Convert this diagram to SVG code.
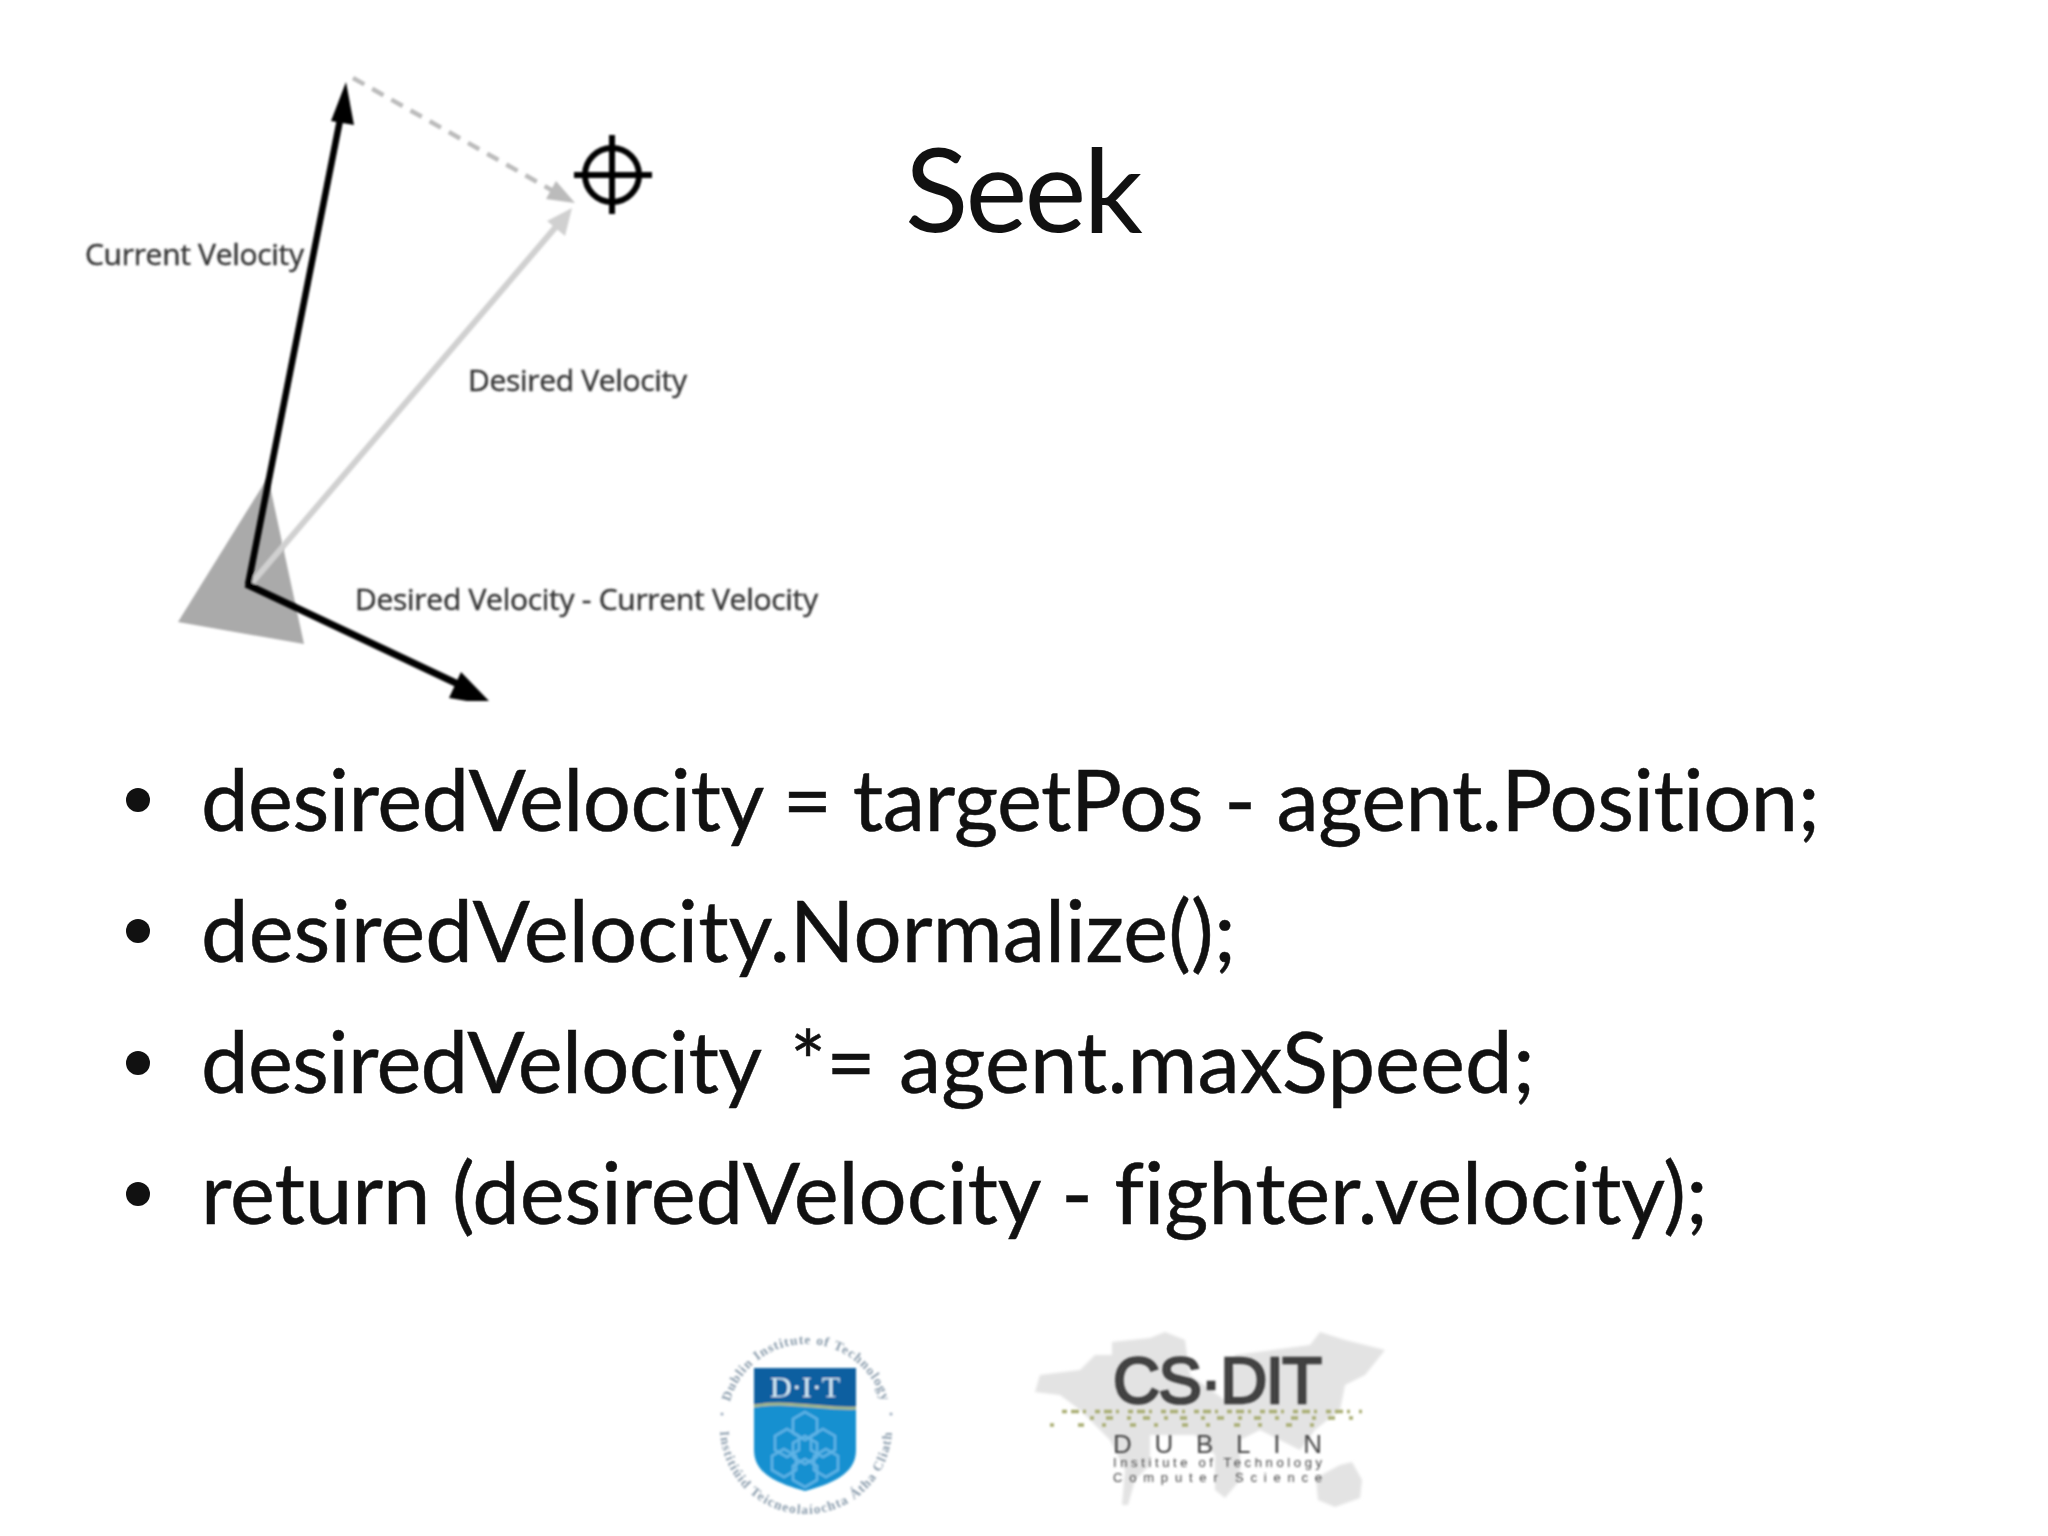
<svg xmlns="http://www.w3.org/2000/svg" width="2048" height="1536" viewBox="0 0 2048 1536">
<style>
.t{font-family:"Lato","Open Sans","Liberation Sans",sans-serif;fill:#111;font-variant-ligatures:none}
.b{font-size:85px;stroke:#111;stroke-width:.5}
.l{font-family:"Open Sans","Noto Sans",sans-serif;font-size:30px;fill:#333;stroke:#333;stroke-width:.4}
.k{font-family:"Liberation Sans",sans-serif;fill:#444}
.c{fill:none;stroke:#5fb4e6;stroke-width:2.5}
.r{font-family:"Liberation Serif",serif;font-size:13.5px;fill:#8a9cac;font-weight:bold}
.d{fill:none;stroke:#a8ad72;stroke-width:3.5}
</style>
<defs>
<filter id="s" x="-5%" y="-5%" width="110%" height="110%"><feGaussianBlur stdDeviation="0.8"/></filter>
<filter id="m" x="-10%" y="-10%" width="120%" height="120%"><feGaussianBlur stdDeviation="1.6"/></filter>
<path id="top" d="M727 1423A79 79 0 0 1 885 1423"/>
<path id="bot" d="M720 1428A86 86 0 0 0 892 1428"/>
<path id="hex" d="M0-14L12-7V7L0 14L-12 7V-7Z"/>
</defs>
<rect width="2048" height="1536" fill="#fff"/>
<g id="agent" filter="url(#s)"><polygon points="268,477 178,622 304,644" fill="#aaa"/></g>
<g id="connectors" filter="url(#s)" fill="none" stroke-linejoin="round">
<path d="M250 585L560 222" stroke="#d0d0d0" stroke-width="6"/>
<polygon points="572,208 565,236 547,221" fill="#d0d0d0"/>
<path d="M353 78L555 192" stroke="#bbb" stroke-width="4.500" stroke-dasharray="13 9"/>
<polygon points="575,203 546,199 556,181" fill="#bbb"/>
<path d="M248 585L340 120" stroke="#000" stroke-width="6.500"/>
<polygon points="346,82 354,125 331,121" fill="#000"/>
<path d="M246 584L460 685" stroke="#000" stroke-width="7"/>
<polygon points="461,672 489,701 467,701 449,698" fill="#000"/>
</g>
<g id="target" filter="url(#s)" fill="none" stroke="#000" stroke-width="6">
<circle cx="612" cy="175" r="27"/><path d="M574 175H652M612 135V214"/>
</g>
<g id="labels" filter="url(#s)">
<text class="l" x="85" y="265" textLength="219">Current Velocity</text>
<text class="l" x="468" y="391" textLength="219">Desired Velocity</text>
<text class="l" x="355" y="610" textLength="463">Desired Velocity - Current Velocity</text>
</g>
<text id="title" class="t" x="905" y="232" font-size="117" textLength="238">Seek</text>
<g id="bullets">
<g fill="#111"><circle cx="138" cy="800" r="12"/><circle cx="138" cy="931" r="12"/><circle cx="138" cy="1063" r="12"/><circle cx="138" cy="1194" r="12"/></g>
<text class="t b" x="201" y="831" textLength="1619">desiredVelocity = targetPos - agent.Position;</text>
<text class="t b" x="201" y="962" textLength="1035">desiredVelocity.Normalize();</text>
<text class="t b" y="1093"><tspan x="201" textLength="580">desiredVelocity </tspan><tspan x="790">*= </tspan><tspan x="899" textLength="636">agent.maxSpeed;</tspan></text>
<text class="t b" x="201" y="1224" textLength="1507">return (desiredVelocity - fighter.velocity);</text>
</g>
<g id="dit-logo" filter="url(#s)">
<text class="r" letter-spacing="1"><textPath href="#top" startOffset="50%" text-anchor="middle">Dublin Institute of Technology</textPath></text>
<text class="r" letter-spacing="1.200"><textPath href="#bot" startOffset="50%" text-anchor="middle">Institiúid Teicneolaíochta Átha Cliath</textPath></text>
<circle cx="722" cy="1414" r="1.500" fill="#9ab"/><circle cx="891" cy="1414" r="1.500" fill="#9ab"/>
<path d="M754 1368H856V1450C856 1475 830 1484 805 1491C780 1484 754 1475 754 1450Z" fill="#1990d0"/>
<path d="M754 1368H856V1408C825 1410 790 1400 754 1406Z" fill="#0b5fa0"/>
<path d="M754 1406C790 1400 825 1410 856 1408" fill="none" stroke="#a9b98a" stroke-width="3"/>
<text x="805" y="1397" text-anchor="middle" font-family="Liberation Serif,serif" font-size="30" fill="#d9eef8">D·I·T</text>
<g class="c">
<use href="#hex" x="805" y="1426"/><use href="#hex" x="787" y="1443"/><use href="#hex" x="823" y="1443"/><use href="#hex" x="805" y="1450"/><use href="#hex" x="784" y="1463"/><use href="#hex" x="826" y="1463"/><use href="#hex" x="805" y="1473"/>
</g>
</g>
<g id="csdit-logo">
<g filter="url(#m)" fill="#e3e3e3">
<path d="M1035 1392L1040 1375L1080 1370L1095 1355L1112 1355L1112 1342L1150 1338L1165 1332L1185 1340L1190 1375L1225 1400L1235 1355L1310 1345L1320 1332L1345 1340L1385 1350L1365 1375L1345 1385L1340 1410L1315 1430L1300 1450L1260 1430L1240 1440L1240 1480L1225 1498L1215 1490L1215 1455L1195 1435L1150 1435L1150 1465L1135 1480L1128 1505L1122 1505L1125 1470L1110 1440L1080 1410L1060 1395Z"/>
<path d="M1316 1478L1340 1465L1352 1462L1362 1480L1360 1498L1335 1507L1318 1500Z"/>
</g>
<g filter="url(#s)">
<text class="k" x="1113" y="1403" font-size="65" fill="#3e3e3e" stroke="#3e3e3e" stroke-width="2.500" textLength="209">CS·DIT</text>
<path class="d" d="M1062 1411.500h300" stroke-dasharray="5 4 8 4 3 9"/>
<path class="d" d="M1090 1418h270" stroke-dasharray="4 12 7 14"/>
<path class="d" d="M1050 1425h270" stroke-dasharray="4 24 6 18" stroke="#999"/>
<text class="k" x="1113" y="1453" font-size="26" textLength="209">DUBLIN</text>
<text class="k" x="1113" y="1467" font-size="13" fill="#777" textLength="209">Institute of Technology</text>
<text class="k" x="1113" y="1482" font-size="13" fill="#888" textLength="209">Computer Science</text>
</g>
</g>
</svg>
